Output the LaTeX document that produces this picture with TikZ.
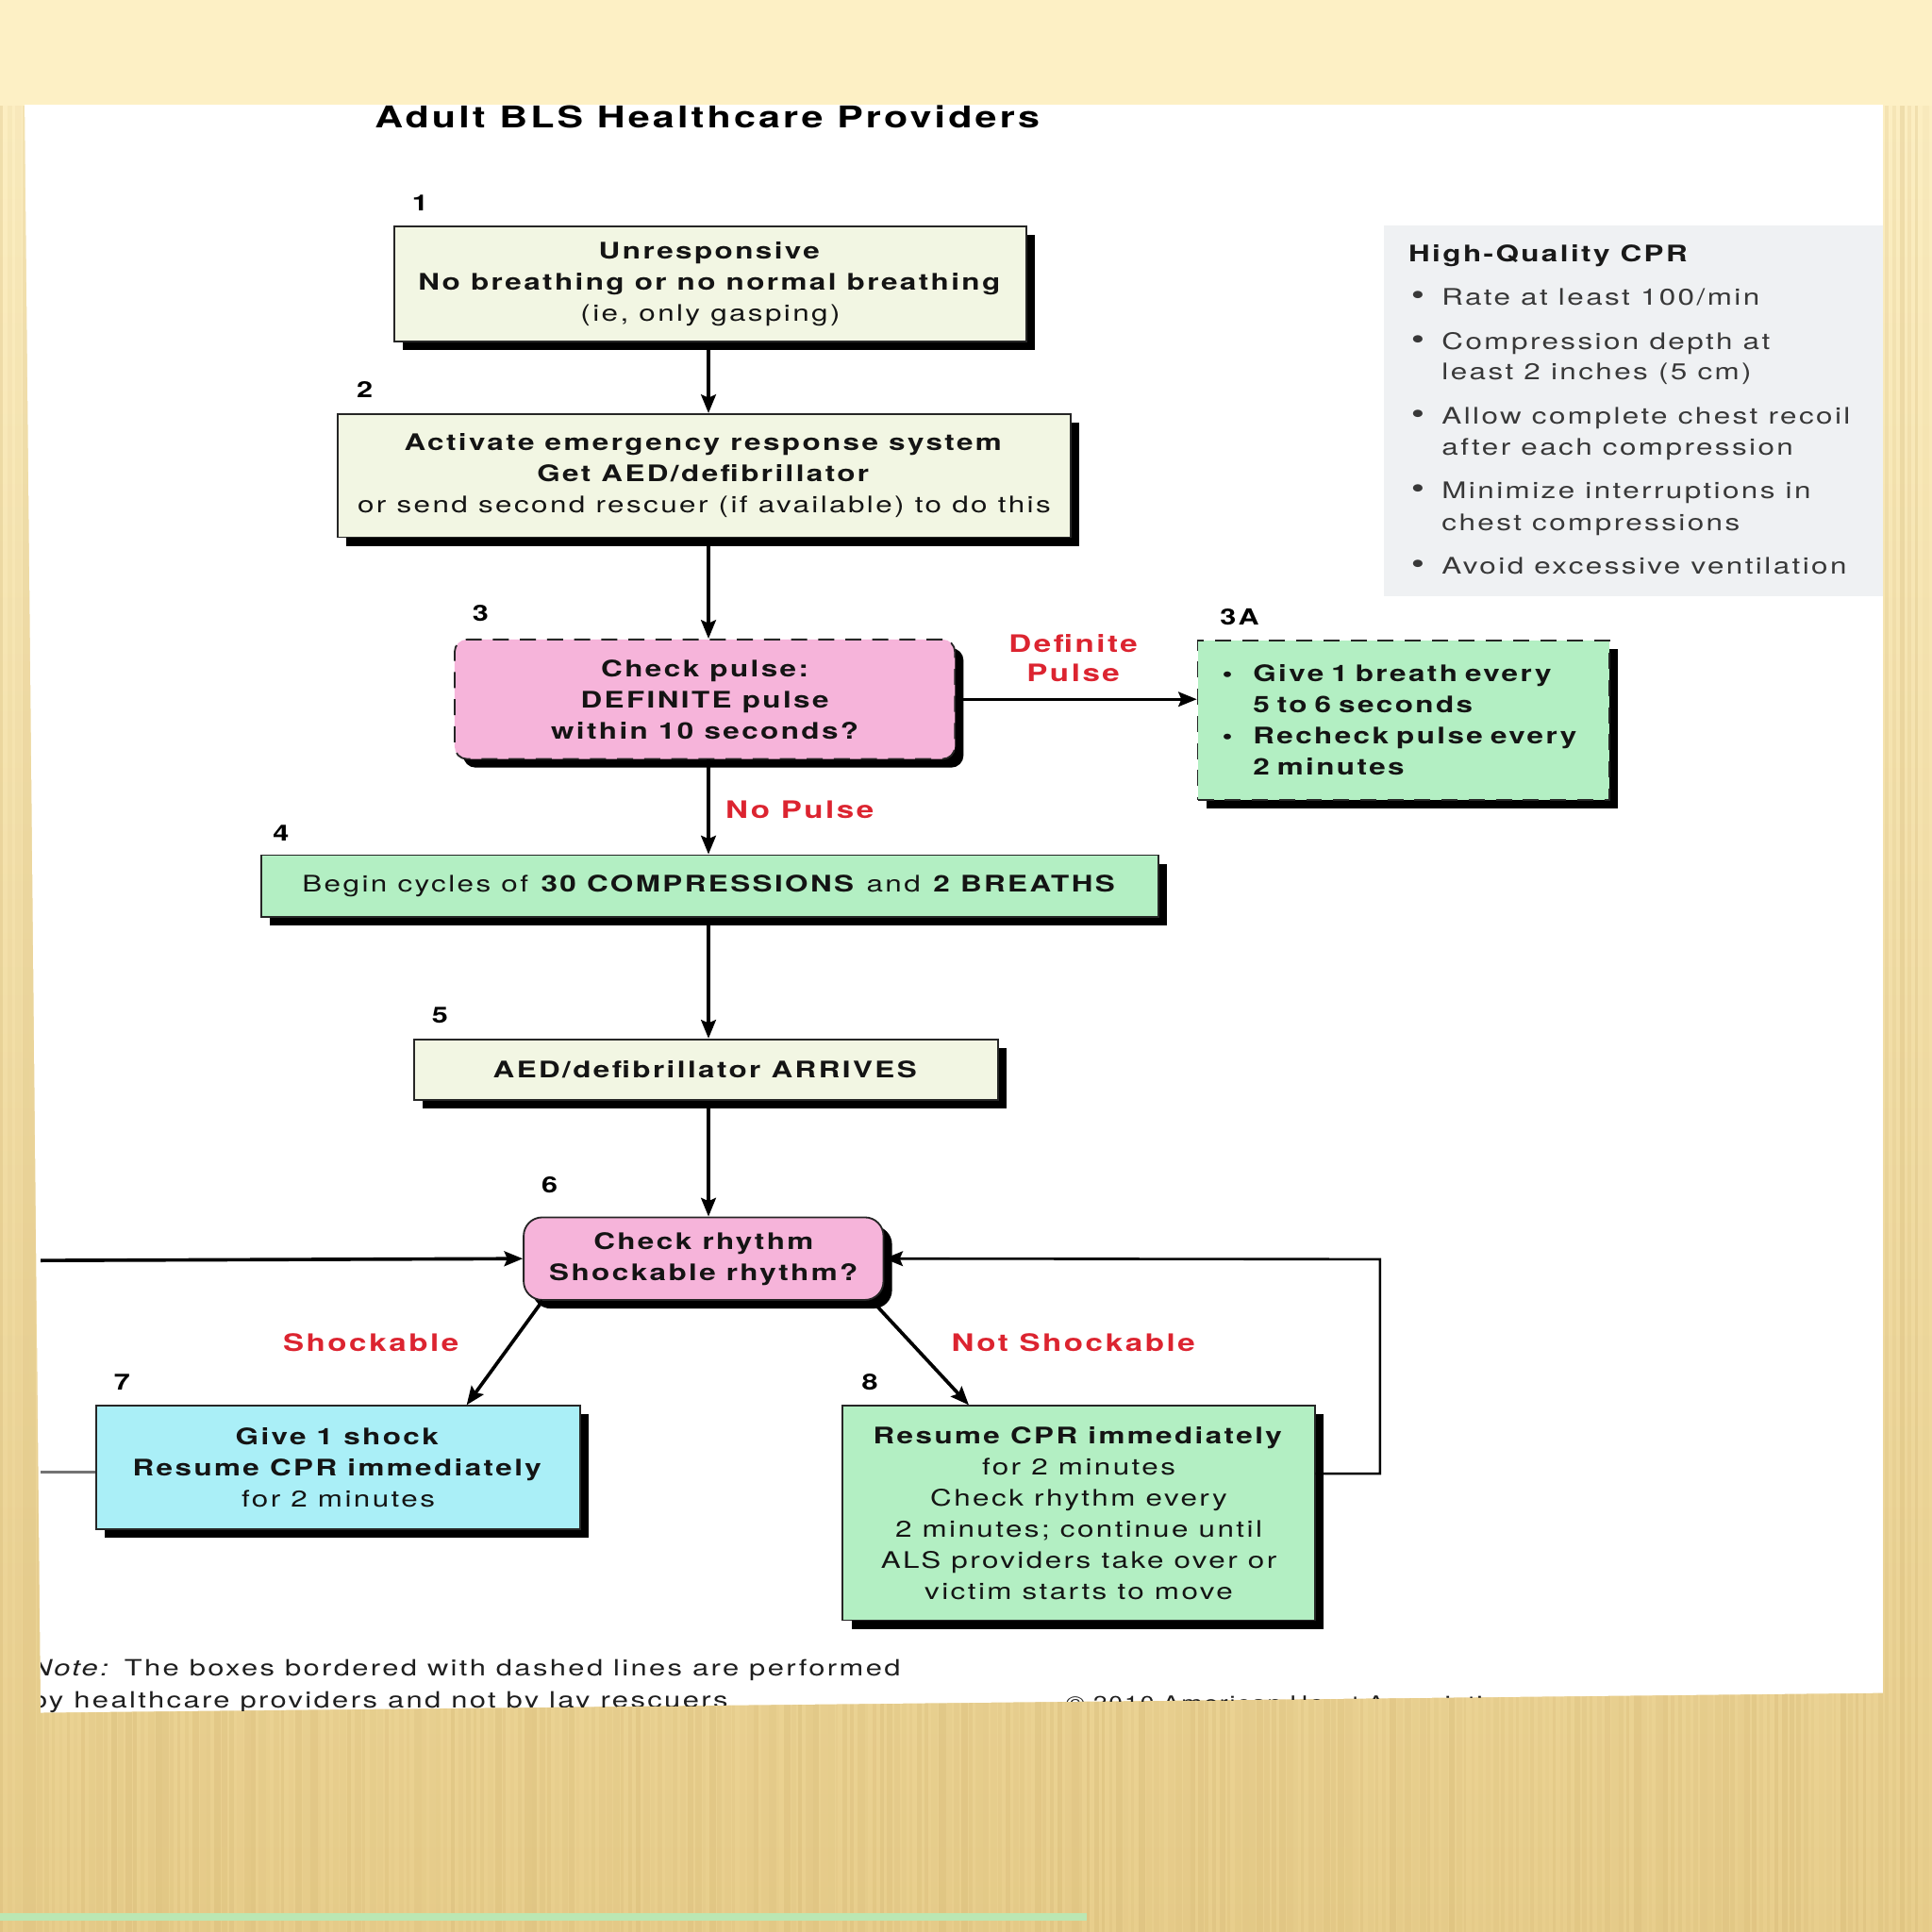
\documentclass[tikz,border=0pt]{standalone}
\usepackage{fontspec}
\setmainfont{TeX Gyre Heros}[FakeStretch=1.3,LetterSpace=10]
\usetikzlibrary{arrows.meta,shadows}
\definecolor{cream}{HTML}{F2F6E3}
\definecolor{pinkb}{HTML}{F6B4DA}
\definecolor{greenb}{HTML}{B3EFC3}
\definecolor{cyanb}{HTML}{AAEFF7}
\definecolor{redl}{HTML}{DC2430}
\definecolor{hqgray}{HTML}{EFF1F3}
\definecolor{bgtop}{HTML}{FDF0C5}
\definecolor{bgbot}{HTML}{E8CE8C}
\definecolor{stripec}{HTML}{C9AA66}
\definecolor{greenline}{HTML}{BBE7B3}
\newcommand\bxfont{\fontsize{18.5}{25.3}\selectfont}
\newcommand\bigbul{{\fontsize{24}{24}\selectfont\textbullet}}
\tikzset{
  box/.style={draw=black!85, line width=1.4pt, inner sep=0pt, align=center,
    font=\bxfont, text=black!92,
    drop shadow={shadow xshift=7pt, shadow yshift=-7pt, fill=black, opacity=1}},
  dbox/.style={box, dash pattern=on 13pt off 9pt},
  numlbl/.style={font=\fontsize{18}{20}\selectfont\bfseries, inner sep=0pt},
  redlbl/.style={font=\fontsize{19.5}{24}\selectfont\bfseries, text=redl, align=center, inner sep=0pt},
  arr/.style={line width=2.8pt, -{Stealth[length=15pt,width=12pt,inset=2.5pt]}},
  thinarr/.style={line width=2pt, -{Stealth[length=15pt,width=12pt,inset=2.5pt]}},
  thinline/.style={line width=2.4pt},
  hqtxt/.style={anchor=base west, inner sep=0pt, font=\bxfont, text=black!78},
  foot/.style={anchor=base west, inner sep=0pt, font=\fontsize{18.2}{22}\selectfont, text=black!88},
}
\begin{document}
\begin{tikzpicture}[x=1pt,y=-1pt]
\useasboundingbox (0,0) rectangle (1568,1568);
% background
\shade[top color=bgtop, bottom color=bgbot] (0,0) rectangle (1568,1568);
\fill[bgtop] (0,0) rectangle (1568,86);
\pgfmathsetseed{7}
\foreach \i in {0,...,260}{
  \pgfmathsetmacro\op{0.05+0.2*rnd}
  \pgfmathsetmacro\wd{2+4*rnd}
  \fill[stripec, opacity=\op] (\i*6,86) rectangle ++(\wd,1482);
}
\fill[white] (20,85) -- (1528,85) -- (1528,1374) -- (33,1390) -- cycle;
\fill[greenline] (0,1553) rectangle (882,1559);

% High-quality CPR panel
\node[fill=hqgray, minimum width=405pt, minimum height=301pt, inner sep=0pt] (hq) at (1325.5,333.5) {};
\node[hqtxt, font=\bxfont\bfseries, text=black!90] (hq0) at (1143,212.5) {High-Quality CPR};
\node[hqtxt] (hq1) at (1145,247.5) {\makebox[25pt][l]{\bigbul}Rate at least 100/min};
\node[hqtxt] (hq2) at (1145,283.5) {\makebox[25pt][l]{\bigbul}Compression depth at};
\node[hqtxt] (hq2b) at (1170,308.5) {least 2 inches (5 cm)};
\node[hqtxt] (hq3) at (1145,344.5) {\makebox[25pt][l]{\bigbul}Allow complete chest recoil};
\node[hqtxt] (hq3b) at (1170,369.5) {after each compression};
\node[hqtxt] (hq4) at (1145,404.5) {\makebox[25pt][l]{\bigbul}Minimize interruptions in};
\node[hqtxt] (hq4b) at (1170,430.5) {chest compressions};
\node[hqtxt] (hq5) at (1145,465.5) {\makebox[25pt][l]{\bigbul}Avoid excessive ventilation};

% title
\node[anchor=base, inner sep=0pt, font=\fontsize{24.3}{30}\selectfont\bfseries] (title) at (574,104) {Adult BLS Healthcare Providers};

% spine
\coordinate (spine) at (575,0);

% boxes
\node[box, fill=cream, minimum width=513pt, minimum height=93pt] (b1) at (576.5,230.5)
  {\textbf{Unresponsive}\\\textbf{No breathing or no normal breathing}\\(ie, only gasping)};
\node[box, fill=cream, minimum width=595pt, minimum height=100pt] (b2) at (571.5,386)
  {\textbf{Activate emergency response system}\\\textbf{Get AED/defibrillator}\\or send second rescuer (if available) to do this};
\node[dbox, rounded corners=10pt, fill=pinkb, minimum width=406pt, minimum height=97pt, font=\bxfont\bfseries] (b3) at (572,567.5)
  {Check pulse:\\DEFINITE pulse\\within 10 seconds?};
\node[dbox, fill=greenb, minimum width=334pt, minimum height=129pt, align=left, text width=294pt, inner xsep=20pt, font=\bxfont\bfseries] (b3a) at (1139,584.5)
  {\makebox[25pt][l]{\textbullet}Give 1 breath every\\\hspace*{25pt}5 to 6 seconds\\\makebox[25pt][l]{\textbullet}Recheck pulse every\\\hspace*{25pt}2 minutes};
\node[box, fill=greenb, minimum width=728pt, minimum height=50pt] (b4) at (576,719)
  {Begin cycles of \textbf{30 COMPRESSIONS} and \textbf{2 BREATHS}};
\node[box, fill=cream, minimum width=474pt, minimum height=49pt] (b5) at (573,868)
  {\textbf{AED/defibrillator ARRIVES}};
\node[box, rounded corners=15pt, fill=pinkb, minimum width=292pt, minimum height=67pt, font=\bxfont\bfseries] (b6) at (571,1021.5)
  {Check rhythm\\Shockable rhythm?};
\node[box, fill=cyanb, minimum width=393pt, minimum height=100pt] (b7) at (274.5,1191)
  {\textbf{Give 1 shock}\\\textbf{Resume CPR immediately}\\for 2 minutes};
\node[box, fill=greenb, minimum width=383pt, minimum height=174pt] (b8) at (875.5,1228)
  {\textbf{Resume CPR immediately}\\for 2 minutes\\Check rhythm every\\2 minutes; continue until\\ALS providers take over or\\victim starts to move};

% step numbers
\node[numlbl] (n1) at (341,165) {1};
\node[numlbl] (n2) at (296,316) {2};
\node[numlbl] (n3) at (390,498) {3};
\node[numlbl] (n3a) at (1006,501) {3A};
\node[numlbl] (n4) at (228,676) {4};
\node[numlbl] (n5) at (357,824) {5};
\node[numlbl] (n6) at (446,962) {6};
\node[numlbl] (n7) at (99,1122) {7};
\node[numlbl] (n8) at (706,1122) {8};

% connectors
\draw[arr] (b1.south -| spine) -- (b2.north -| spine);
\draw[arr] (b2.south -| spine) -- (b3.north -| spine);
\draw[arr] (b3.south -| spine) -- (b4.north -| spine);
\draw[arr] (b4.south -| spine) -- (b5.north -| spine);
\draw[arr] (b5.south -| spine) -- (b6.north -| spine);
\draw[thinarr] (b3.east) -- (b3a.west |- b3.east);
\draw[arr] ([xshift=16pt]b6.south west) -- ([xshift=-93pt]b7.north east);
\draw[arr] ([xshift=-10pt]b6.south east) -- ([xshift=103pt]b8.north west);
\coordinate (loopR) at (1120,1022);
\draw[thinarr] ([yshift=32pt]b8.east) -| (loopR) -- (b6.east);
\coordinate (leftA) at (33,1195);
\coordinate (leftB) at (33,1023);
\draw[thinline, black!55] ([yshift=-4pt]b7.west) -- (leftA);
\draw[arr] (leftB) -- (b6.west);

% branch labels
\node[redlbl] (ldp) at (871,534) {Definite\\Pulse};
\node[redlbl] (lnp) at (649,657) {No Pulse};
\node[redlbl] (lsh) at (301,1090) {Shockable};
\node[redlbl] (lns) at (871,1090) {Not Shockable};

% footnote (clipped to the white sheet)
\begin{scope}
\clip (20,85) -- (1528,85) -- (1528,1374) -- (33,1390) -- cycle;
\node[foot] (fn1) at (25,1360) {\textit{Note:} The boxes bordered with dashed lines are performed};
\node[foot] (fn2) at (25,1386) {by healthcare providers and not by lay rescuers};
\node[foot, font=\fontsize{15.5}{18}\selectfont] (copy) at (865,1388) {© 2010 American Heart Association};
\end{scope}
\end{tikzpicture}
\end{document}
